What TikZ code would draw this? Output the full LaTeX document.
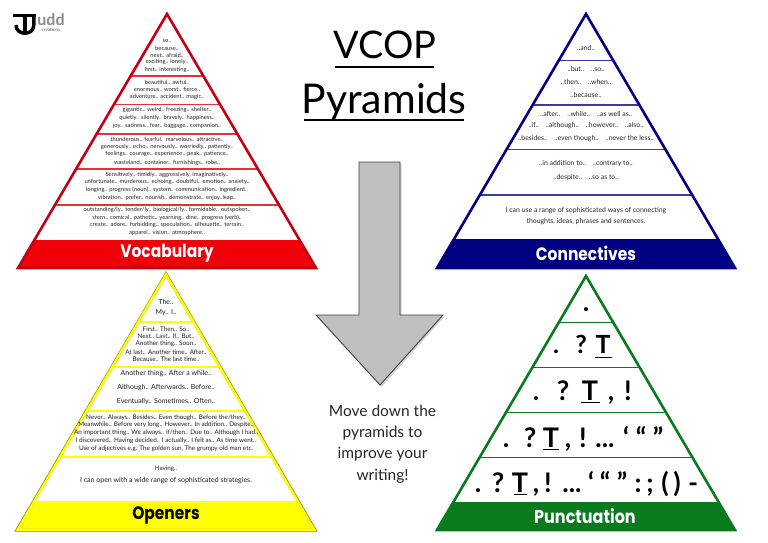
\documentclass[tikz,border=0pt]{standalone}
\usepackage{fontspec}
\setmainfont{Lato}
\newfontfamily\headfont{Poppins}
\definecolor{vred}{HTML}{F00008}
\definecolor{vredge}{HTML}{C40014}
\definecolor{vline}{HTML}{E83038}
\definecolor{vblue}{HTML}{000080}
\definecolor{vbline}{HTML}{3A3AA0}
\definecolor{vyel}{HTML}{FFFF00}
\definecolor{vyline}{HTML}{FFFF00}
\definecolor{volive}{HTML}{8C8C20}
\definecolor{vgreen}{HTML}{0A7A1E}
\newcommand{\fs}[1]{\fontsize{#1}{#1}\selectfont}
\newcommand{\gl}[2]{\makebox[#1pt][c]{#2}}
\newcommand{\ulT}[2]{\makebox[0pt][c]{\rule[-#2pt]{#1pt}{1.1pt}}\makebox[0pt][c]{T}}
% x apex, y apex, y base, fill colour, line positions, band top, line colour, line width
\newcommand{\pyramid}[8]{%
  \begin{scope}
    \clip (#1,#2) -- (#1-149,#3) -- (#1+149,#3) -- cycle;
    \fill[white] (#1-149,#2) rectangle (#1+149,#3);
    \foreach \yy in {#5} \draw[draw=#7,line width=#8pt] (#1-150,\yy) -- (#1+150,\yy);
    \fill[#4] (#1-150,#6) rectangle (#1+150,#3);
  \end{scope}
}
\tikzset{
  x=1pt,y=-1pt,
  pyredge/.style={draw=#1,line width=2.6pt,line join=miter,miter limit=10},
  tinytxt/.style={font=\fs{5.8},inner sep=0pt,text=black!85},
  bluetxt/.style={font=\fs{6.9},inner sep=0pt,text=black!85},
  yeltxt/.style={font=\fs{6.3},inner sep=0pt,text=black!88},
  yelmid/.style={font=\fs{7},inner sep=0pt,text=black!88},
  bandtitle/.style={font=\headfont\bfseries\fs{18},inner sep=0pt,xscale=.86},
  punct/.style={font=\bfseries\fs{27},inner sep=0pt,anchor=base},
  titletxt/.style={font=\fs{41},inner sep=0pt,anchor=base},
  movetxt/.style={font=\fs{15.5},inner sep=0pt,text=black!85,anchor=center},
  titlerule/.style={line width=2.4pt}
}
\begin{document}
\begin{tikzpicture}
\useasboundingbox (0,0) rectangle (768,543);
\fill[white] (0,0) rectangle (768,543);

% logo
\draw[line width=3.4pt,black] (13,15.8) -- (35.5,15.8);
\draw[line width=3.4pt,black] (25,15.8) -- (25,33.5);
\draw[line width=3.4pt,black] (33.8,15.8) -- (33.8,25) .. controls (33.8,36) and (16,36) .. (16,25);
\node[inner sep=0pt,text=black!45,font=\bfseries\fs{16}] (logotext) at (51,20) {udd};
\node[inner sep=0pt,text=black!65,font=\fs{4.6}] (logosub) at (51,30) {creations};

% Red
\pyramid{167}{14}{268}{vred}{76,104.5,134,169,205}{240}{vline}{1.8}
\draw[pyredge=vredge] (167,14) -- (18,268) -- (316,268) -- cycle;
\foreach \n/\yy/\t in {
 r1/41/{so..},r2/48/{because..},r3/55/{next.. afraid..},r4/62/{exciting.. lonely..},r5/70/{first.. interesting..},
 r6/82/{beautiful.. awful..},r7/89/{enormous.. worst.. fierce..},r8/97/{adventure.. accident.. magic..},
 r9/110/{gigantic.. weird.. freezing.. shelter..},r10/118/{quietly.. silently.. bravely.. happiness..},r11/126/{joy.. sadness.. fear.. baggage.. companion..},
 r12/139/{thunderous.. fearful.. marvelous.. attractive..},r13/147/{generously.. echo.. nervously.. worriedly.. patiently..},r14/154/{feelings.. courage.. experience.. peak.. patience..},r15/163/{wasteland.. container.. furnishings.. robe..},
 r16/175/{Sensitively.. timidly.. aggressively, imaginatively..},r17/182/{unfortunate.. murderous.. echoing.. doubtful.. emotion.. anxiety..},r18/190/{longing.. progress (noun).. system.. communication.. ingredient..},r19/198/{vibration.. prefer.. nourish.. demonstrate.. enjoy..leap..},
 r20/210/{outstanding/ly.. tender/ly.. biological/ly.. formidable.. outspoken..},r21/218/{stern.. comical.. pathetic.. yearning.. dine.. progress (verb)..},r22/225/{create.. adore.. forbidding.. speculation.. silhouette.. terrain..},r23/233/{apparel.. vision.. atmosphere..}}
 \node[tinytxt] (\n) at (167,\yy) {\t};
\node[bandtitle,text=white] (vocab) at (167,253.5) {Vocabulary};

% Blue
\pyramid{586}{14}{268}{vblue}{60.7,105,149.5,195}{239}{vbline}{1.2}
\draw[pyredge=vblue] (586,14) -- (437,268) -- (735,268) -- cycle;
\foreach \n/\yy/\t in {
 b1/48/{..and..},b2/69/{..but..\quad ..so..},b3/82/{..then..\quad ..when..},b4/95/{..because..},
 b5/114/{..after..\quad ..while..\quad ..as well as..},b6/126/{..if..\quad ..although..\quad ..however..\quad ..also..},b7/139/{..besides..\quad ..even though..\quad ..never the less..},
 b8/164/{..in addition to..\quad ..contrary to..},b9/178/{..despite..\quad ..so as to..},
 b10/211/{I can use a range of sophisticated ways of connecting},b11/222/{thoughts, ideas, phrases and sentences.}}
 \node[bluetxt] (\n) at (586,\yy) {\t};
\node[bandtitle,text=white] (conn) at (586,253.5) {Connectives};

% Yellow
\pyramid{166}{274}{530}{vyel}{322,367,411,457}{501}{vyline}{1.8}
\draw[line width=3pt,volive,line join=miter,miter limit=10] (166,274) -- (17,530) -- (315,530) -- cycle;
\draw[pyredge=vyel,line width=2.4pt] (166,274.5) -- (17.8,529.6) -- (314.2,529.6) -- cycle;
\foreach \n/\yy/\t in {
 y3/329/{First.. Then.. So..},y4/336/{Next.. Last.. If.. But..},y5/344/{Another thing.. Soon..},y6/352/{At last.. Another time.. After..},y7/359/{Because.. The last time..},
 y11/418/{Never.. Always.. Besides.. Even though.. Before the/they..},y12/425/{Meanwhile.. Before very long.. However.. In addition.. Despite..},y13/433/{An important thing.. We always.. If/then.. Due to.. Although I had..},y14/441/{I discovered.. Having decided.. I actually.. I felt as.. As time went..},y15/449/{Use of adjectives e.g. The golden sun, The grumpy old man etc.},
 y16/469/{Having..}}
 \node[yeltxt] (\n) at (166,\yy) {\t};
\foreach \n/\yy/\t in {
 y1/302/{The..},y2/313/{My.. I..},y8/374/{Another thing.. After a while..},y9/388/{Although.. Afterwards.. Before..},y10/402/{Eventually.. Sometimes.. Often..},y17/481/{I can open with a wide range of sophisticated strategies.}}
 \node[yelmid] (\n) at (166,\yy) {\t};
\node[bandtitle,text=black] (openers) at (166,515) {Openers};

% Green
\pyramid{586}{276}{530}{vgreen}{322,367,412,457}{502}{vgreen}{1}
\draw[pyredge=vgreen] (586,276) -- (437,530) -- (735,530) -- cycle;
\node[punct] (p1) at (586,311) {.};
\node[punct,font=\bfseries\fs{25}] (p2) at (578,353) {\gl{20}{.}\gl{30}{?}\gl{14}{\ulT{17}{5}}};
\node[punct] (p3) at (580,400) {\gl{20}{.}\gl{34}{?}\gl{20}{\ulT{19}{3}}\gl{22}{,}\gl{12}{!}};
\node[punct] (p4) at (580,447) {\gl{20}{.}\gl{28}{?}\gl{14}{\ulT{16}{3}}\gl{20}{,}\gl{10}{!}\gl{34}{...}\gl{8}{‘}\gl{22}{“}\gl{12}{”}};
\node[punct] (p5) at (585,492) {\gl{20}{.}\gl{20}{?}\gl{24}{\ulT{13}{3}}\gl{8}{,}\gl{16}{!}\gl{32}{...}\gl{6}{‘}\gl{22}{“}\gl{12}{”}\gl{20}{:}\gl{4}{;}\hspace{8pt}\gl{10}{(}\gl{14}{)}\gl{18}{-}};
\node[bandtitle,text=white,font=\headfont\bfseries\fs{18.6}] (punctt) at (585,516) {Punctuation};

% Arrow
\fill[black!35,opacity=.5] (360.5,163.5) -- (401.5,163.5) -- (401.5,316.5) -- (444.5,316.5) -- (381.5,387) -- (317.5,316.5) -- (360.5,316.5) -- cycle;
\draw[draw=black!75,fill=black!25,line width=.9pt] (359,162) -- (400,162) -- (400,315) -- (443,315) -- (380,385) -- (316,315) -- (359,315) -- cycle;

% Title
\node[titletxt,font=\fs{38}] (t1) at (385,59) {VCOP};
\node[titletxt] (t2) at (384,113) {Pyramids};
\draw[titlerule] (335,67) -- (434,67);
\draw[titlerule] (304,120) -- (464,120);

% Move text
\node[movetxt] (m1) at (382.5,411) {Move down the};
\node[movetxt] (m2) at (382.5,433) {pyramids to};
\node[movetxt] (m3) at (382.5,454) {improve your};
\node[movetxt] (m4) at (382.5,476) {writing!};
\end{tikzpicture}
\end{document}
